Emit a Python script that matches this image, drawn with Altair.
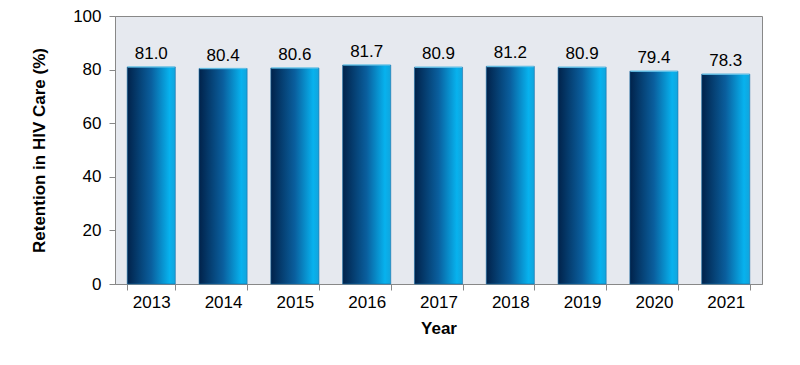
import altair as alt
import pandas as pd

years = ["2013", "2014", "2015", "2016", "2017", "2018", "2019", "2020", "2021"]
values = [81.0, 80.4, 80.6, 81.7, 80.9, 81.2, 80.9, 79.4, 78.3]

df = pd.DataFrame({"Year": years, "Value": values})
df["Label"] = [f"{v:.1f}" for v in values]

FONT = "Liberation Sans"

grad = alt.Gradient(
    gradient="linear",
    x1=0, x2=1, y1=0, y2=0,
    stops=[
        alt.GradientStop(color="#01224a", offset=0),
        alt.GradientStop(color="#0a5f9e", offset=0.5),
        alt.GradientStop(color="#07b2ee", offset=0.88),
        alt.GradientStop(color="#12a4dc", offset=1),
    ],
)

x = alt.X(
    "Year:N",
    sort=years,
    scale=alt.Scale(paddingInner=0.33, paddingOuter=0.17),
    axis=alt.Axis(
        title="Year", labelAngle=0, tickBand="extent", labelFontSize=17,
        titleFontSize=17, titleFontWeight="bold", labelColor="black",
        titleColor="black", domainColor="#888888", tickColor="#888888",
        tickSize=6, labelPadding=4, titlePadding=10, labelFont=FONT, titleFont=FONT,
    ),
)
y = alt.Y(
    "Value:Q",
    scale=alt.Scale(domain=[0, 100]),
    axis=alt.Axis(
        title="Retention in HIV Care (%)", values=[0, 20, 40, 60, 80, 100],
        grid=False, labelFontSize=17, titleFontSize=17, titleFontWeight="bold",
        labelColor="black", titleColor="black", domainColor="#888888",
        tickColor="#888888", tickSize=6, labelPadding=8, titlePadding=24,
        labelFont=FONT, titleFont=FONT,
    ),
)

bars = alt.Chart(df).mark_bar(color=grad, stroke="#1a6fa8", strokeWidth=0.6).encode(x=x, y=y)
cap = alt.Chart(df).mark_tick(color="#6fd3f7", thickness=1.5, bandSize=48, size=47).encode(
    x=alt.X("Year:N", sort=years), y="Value:Q"
)
text = alt.Chart(df).mark_text(
    baseline="alphabetic", dy=-8, fontSize=17, font=FONT, color="black"
).encode(x=alt.X("Year:N", sort=years), y="Value:Q", text="Label:N")

chart = alt.layer(bars, cap, text).properties(
    width=647, height=268,
    autosize=alt.AutoSizeParams(type="none"),
    padding={"left": 107, "top": 8, "right": 30, "bottom": 70},
    background="white",
).configure_view(fill="#e6e9ef", stroke="#888888")

chart.save("out.html", embed_options={"renderer": "svg", "actions": False})
